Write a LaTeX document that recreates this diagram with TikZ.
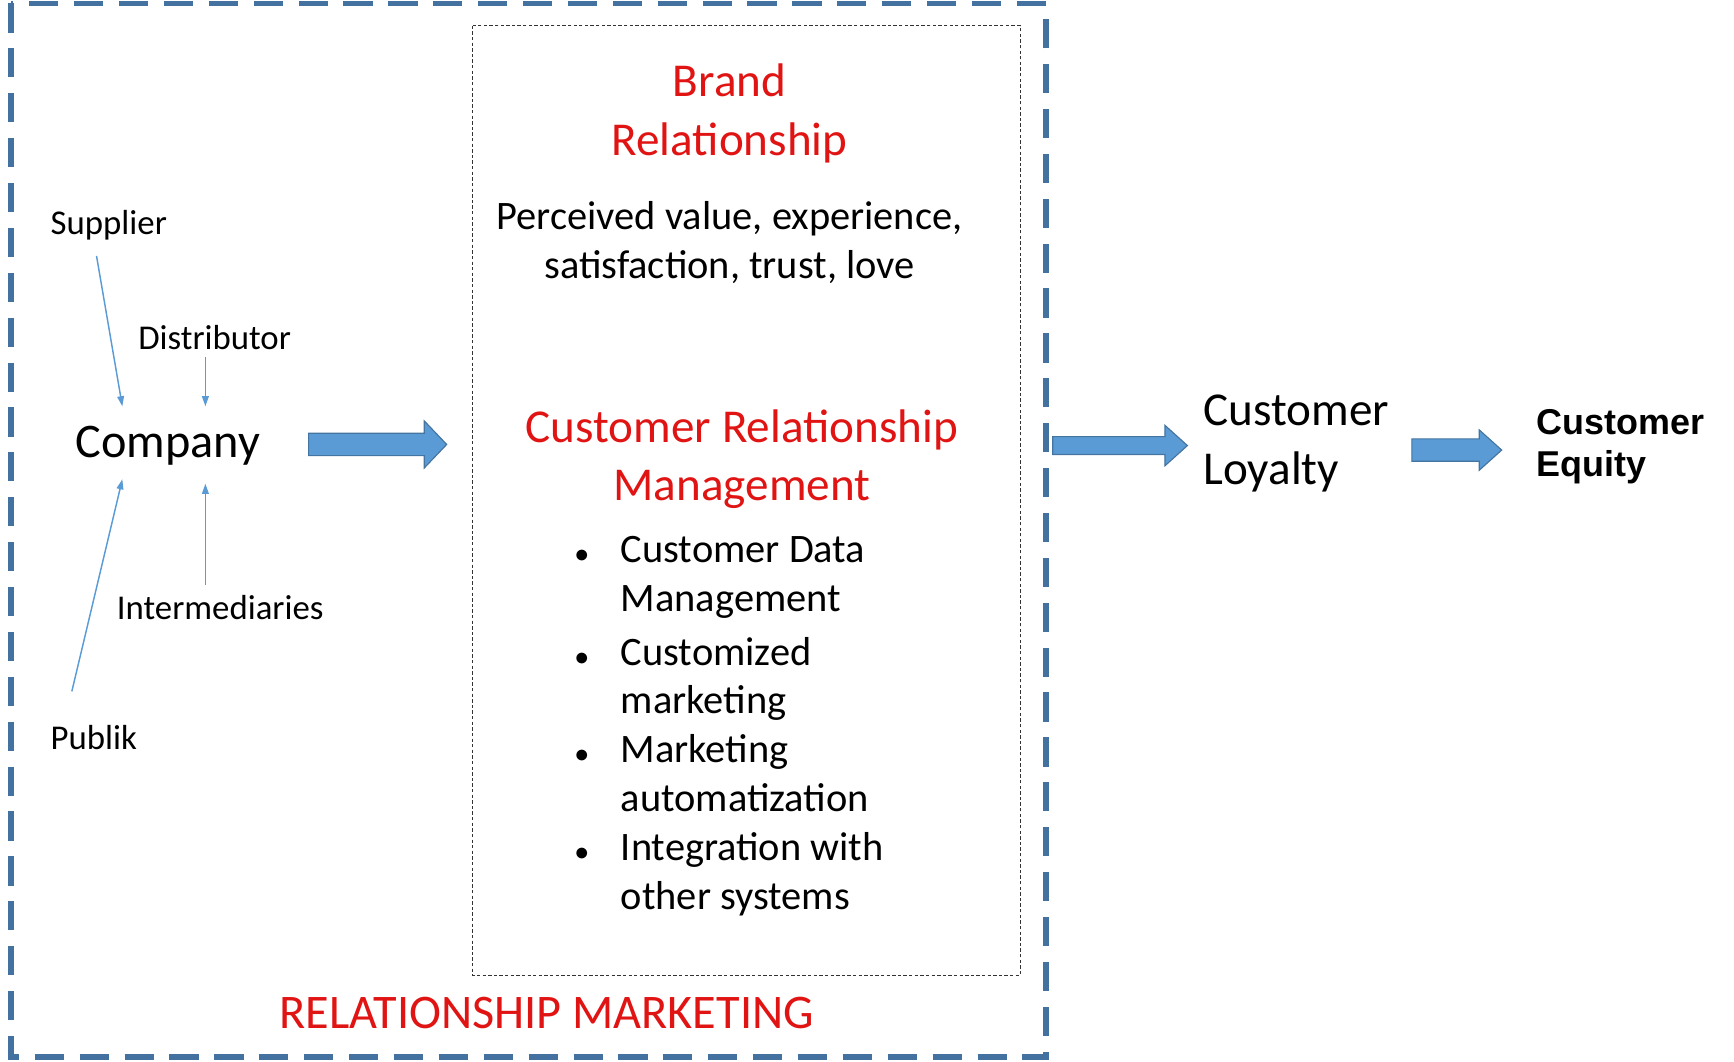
\documentclass[tikz,border=0pt]{standalone}
\usepackage{fontspec}
\setmainfont{Carlito}
\newfontfamily\arialfont{Liberation Sans}
\usetikzlibrary{positioning,arrows.meta}
\definecolor{frameblue}{RGB}{68,114,160}
\definecolor{arrowblue}{RGB}{91,155,213}
\definecolor{titlered}{RGB}{225,20,20}
\definecolor{equityblue}{RGB}{60,60,220}
\tikzset{
  lbl/.style={font=\fontsize{31}{34}\selectfont, inner sep=0pt},
  big/.style={font=\fontsize{42}{52}\selectfont, inner sep=0pt, align=center},
  thin arrow/.style={draw=arrowblue, line width=1.3pt, -{Triangle[length=9pt,width=6pt]}},
  fat arrow/.style={draw=arrowblue!75!black, fill=arrowblue, line width=1pt},
  pics/blockarrow/.style args={#1/#2/#3}{code={% length / half shaft / half head
    \path[fat arrow, pic actions] (0,-#2) -- (#1-20,-#2) -- (#1-20,-#3) -- (#1,0)
      -- (#1-20,#3) -- (#1-20,#2) -- (0,#2) -- cycle;}},
}
\begin{document}
\begin{tikzpicture}[x=1pt, y=-1pt]
\useasboundingbox (0,0) rectangle (1545,946);
% frames
\draw[frameblue, line width=5pt, dash pattern=on 26pt off 14pt] (10,3) rectangle (932,942);
\draw[black!80, line width=0.8pt, dash pattern=on 3pt off 2pt] (421,23) rectangle (909,869);
% left part
\node[lbl, anchor=west] (supplier) at (45,201) {Supplier};
\node[lbl, anchor=west] (distributor) at (123,301) {Distributor};
\node[font=\fontsize{43}{48}\selectfont, inner sep=0pt, anchor=west] (company) at (67,397) {Company};
\node[lbl, anchor=west] (interm) at (104,541) {Intermediaries};
\node[lbl, anchor=west] (publik) at (45,657) {Publik};
\coordinate (s0) at (86,228); \coordinate (s1) at (109,362);
\coordinate (d0) at (183,318); \coordinate (d1) at (183,362);
\coordinate (p0) at (64,616); \coordinate (p1) at (109,427);
\coordinate (i0) at (183,521); \coordinate (i1) at (183,431);
\draw[thin arrow] (s0) -- (s1);
\draw[thin arrow] (d0) -- (d1);
\draw[thin arrow] (p0) -- (p1);
\draw[thin arrow] (i0) -- (i1);
\pic at (275,396) {blockarrow=123/10/21};
% middle part
\node[big, text=titlered] (brand) at (650,101) {Brand\\Relationship};
\node[font=\fontsize{36}{44}\selectfont, inner sep=0pt, align=center] (values) at (650,216) {Perceived value, experience,\\satisfaction, trust, love};
\node[big, text=titlered] (crm) at (661,409) {Customer Relationship\\Management};
\node[font=\fontsize{36}{43.5}\selectfont, inner sep=0pt, align=left, anchor=north west] (list) at (512,478) {%
\makebox[41pt][l]{$\bullet$}Customer Data\\\hspace*{41pt}Management\\[4pt]
\makebox[41pt][l]{$\bullet$}Customized\\\hspace*{41pt}marketing\\[0pt]
\makebox[41pt][l]{$\bullet$}Marketing\\\hspace*{41pt}automatization\\[0pt]
\makebox[41pt][l]{$\bullet$}Integration with\\\hspace*{41pt}other systems};
\node[font=\fontsize{43}{46}\selectfont, text=titlered, inner sep=0pt] (rm) at (487,903) {RELATIONSHIP MARKETING};
% right part
\pic at (938,397) {blockarrow=120/8/18};
\node[font=\fontsize{42}{52}\selectfont, inner sep=0pt, align=left, anchor=west] (loyalty) at (1072,395) {Customer\\Loyalty};
\pic[draw=equityblue, line width=2.5pt] at (1258,401) {blockarrow=80/10/18};
\node[font=\arialfont\bfseries\fontsize{32}{37}\selectfont, inner sep=0pt, align=left, anchor=west] (equity) at (1369,398) {Customer\\Equity};
\end{tikzpicture}
\end{document}
